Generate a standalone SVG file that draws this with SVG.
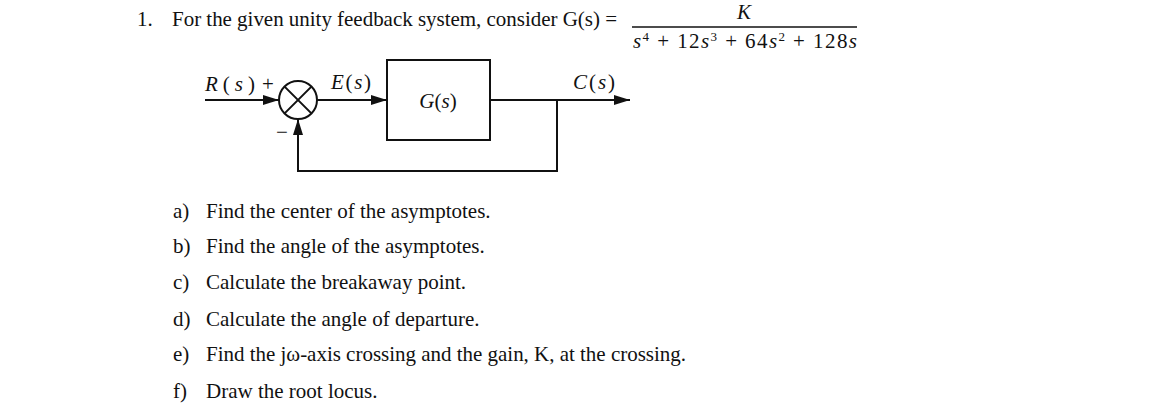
<svg xmlns="http://www.w3.org/2000/svg" width="1170" height="413" viewBox="0 0 1170 413">
<defs>
<style>
text{font-family:"Liberation Serif","Times New Roman",serif;fill:#111;font-size:21px}
.it{font-style:italic}
.ln{stroke:#111;stroke-width:2;fill:none}
</style>
<marker id="ah" viewBox="0 0 16 10" refX="16" refY="5" markerWidth="16" markerHeight="10" markerUnits="userSpaceOnUse" orient="auto"><path d="M0,0L16,5L0,10z" fill="#111"/></marker>
</defs>
<rect width="1170" height="413" fill="#fff"/>
<text x="137" y="26">1.</text>
<text x="172" y="26" textLength="445">For the given unity feedback system, consider G(s) =</text>
<text x="744" y="19" class="it" text-anchor="middle" font-size="18">K</text>
<line x1="632" y1="27" x2="857" y2="27" stroke="#111" stroke-width="1.3"/>
<text x="633" y="48" font-size="19" textLength="224"><tspan class="it">s</tspan><tspan dy="-7" font-size="13">4</tspan><tspan dy="7"> + 12</tspan><tspan class="it">s</tspan><tspan dy="-7" font-size="13">3</tspan><tspan dy="7"> + 64</tspan><tspan class="it">s</tspan><tspan dy="-7" font-size="13">2</tspan><tspan dy="7"> + 128</tspan><tspan class="it">s</tspan></text>
<g id="sum"><circle cx="298" cy="100" r="19" class="ln"/><path d="M284.6,86.6L311.4,113.4M311.4,86.6L284.6,113.4" class="ln"/></g>
<g id="G"><rect x="387" y="60" width="103" height="80" class="ln" stroke-width="2.5"/><text x="438" y="108" text-anchor="middle" font-size="24"><tspan class="it">G</tspan>(<tspan class="it">s</tspan>)</text></g>
<g id="connectors">
<line x1="205" y1="100" x2="279" y2="100" class="ln" marker-end="url(#ah)"/>
<line x1="317" y1="100" x2="387" y2="100" class="ln" marker-end="url(#ah)"/>
<line x1="490" y1="100" x2="630" y2="100" class="ln" marker-end="url(#ah)"/>
<polyline points="557,100 557,171 298,171 298,119" class="ln" marker-end="url(#ah)"/>
</g>
<text x="205" y="91" font-size="24" textLength="50"><tspan class="it">R</tspan>(<tspan class="it">s</tspan>)</text>
<text x="262" y="91" font-size="22">+</text>
<text x="276" y="139" font-size="22">−</text>
<text x="331" y="89" font-size="24" textLength="40"><tspan class="it">E</tspan>(<tspan class="it">s</tspan>)</text>
<text x="573" y="89" font-size="24" textLength="42"><tspan class="it">C</tspan>(<tspan class="it">s</tspan>)</text>
<text x="173" y="218">a)</text><text x="206" y="218">Find the center of the asymptotes.</text>
<text x="173" y="253">b)</text><text x="206" y="253">Find the angle of the asymptotes.</text>
<text x="173" y="289">c)</text><text x="206" y="289">Calculate the breakaway point.</text>
<text x="173" y="326">d)</text><text x="206" y="326">Calculate the angle of departure.</text>
<text x="173" y="361">e)</text><text x="206" y="361" textLength="480">Find the jω-axis crossing and the gain, K, at the crossing.</text>
<text x="173" y="398">f)</text><text x="206" y="398">Draw the root locus.</text>
</svg>
